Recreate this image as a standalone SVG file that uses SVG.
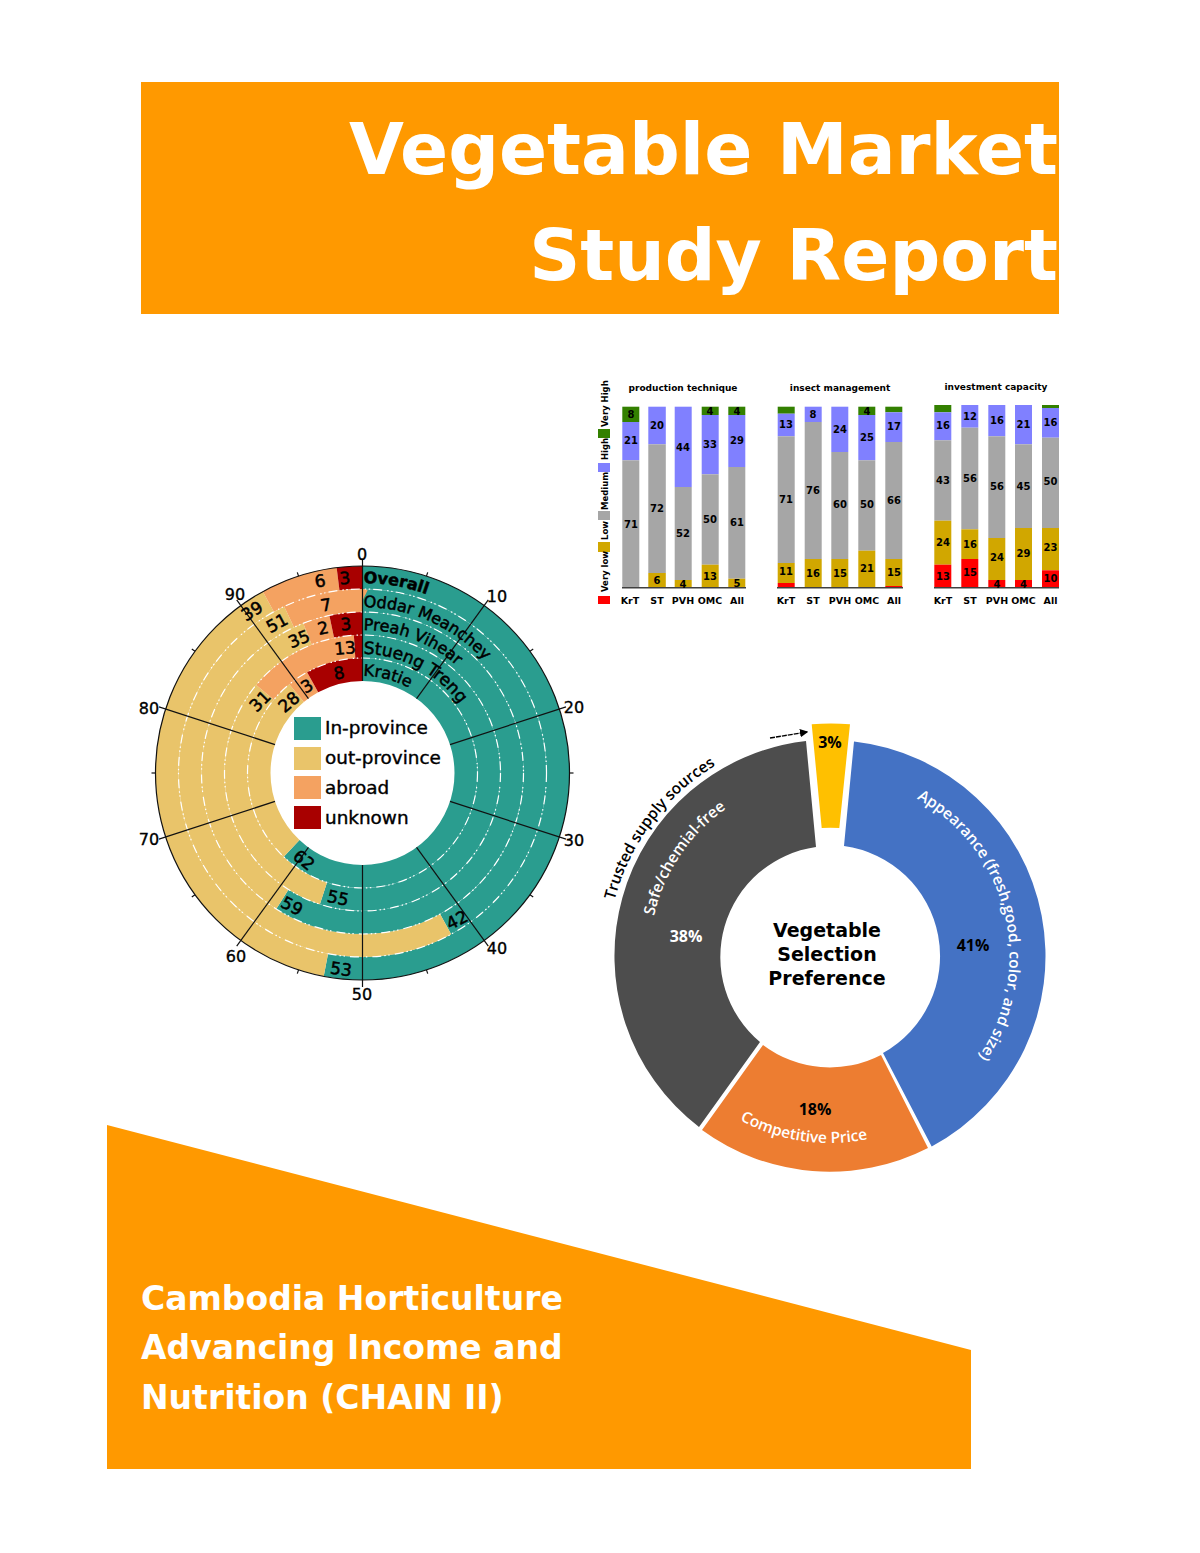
<svg xmlns="http://www.w3.org/2000/svg" width="1200" height="1553" viewBox="0 0 1200 1553">
<style>
text{font-family:"DejaVu Sans","Liberation Sans",sans-serif}
.ban{fill:#FF9900}
.t1{font-size:71px;font-weight:700;fill:#fff;text-anchor:end}
.t2{font-size:33px;font-weight:700;fill:#fff}
.ring{fill:none;stroke-width:23}
.in{stroke:#2A9D8F}.out{stroke:#E9C46A}.abr{stroke:#F4A261}.unk{stroke:#A80000}
.sep{fill:none;stroke:#fff;stroke-width:1.2;stroke-dasharray:9 5 1.5 2.5 1.5 3}
.ax{stroke:#111;stroke-width:1.2;fill:none}
.axl{font-size:16px;fill:#000;stroke:#000;stroke-width:.35;text-anchor:middle;dominant-baseline:central}
.row{font-size:16px;fill:#000;stroke:#000;stroke-width:.5}
.dl{font-size:17px;fill:#000;stroke:#000;stroke-width:.5;text-anchor:middle;dominant-baseline:central}
.leg{font-size:18.4px;fill:#000;stroke:#000;stroke-width:.4}
.r{fill:#FF0000}.g{fill:#D1A700}.m{fill:#A6A6A6}.p{fill:#8080FF}.v{fill:#338000}
.bv{font-size:10px;font-weight:700;fill:#000;text-anchor:middle;dominant-baseline:central}
.bc{font-size:9.5px;font-weight:700;fill:#000;text-anchor:middle}
.bt{font-size:9px;font-weight:700;fill:#000;text-anchor:middle}
.bl{font-size:8.5px;font-weight:700;fill:#000}
.base{stroke:#404040;stroke-width:1.6}
.dt{font-family:"Open Sans","Liberation Sans",sans-serif;font-size:15.5px;fill:#fff;font-weight:600}
.dp{font-family:"Open Sans","Liberation Sans",sans-serif;font-size:16px;font-weight:700;text-anchor:middle}
.dc{font-size:19px;font-weight:700;fill:#000;text-anchor:middle}
</style>
<defs>
<path id="a190" d="M362.5 583A190 190 0 0 1 362.5 963"/>
<path id="a166" d="M362.5 607A166 166 0 0 1 362.5 939"/>
<path id="a143" d="M362.5 630A143 143 0 0 1 362.5 916"/>
<path id="a119" d="M362.5 654A119 119 0 0 1 362.5 892"/>
<path id="a97" d="M362.5 676A97 97 0 0 1 362.5 870"/>
<path id="dApp" d="M829.5 776A180 180 0 0 1 829.5 1136"/>
<path id="dSafe" d="M829.5 1136A180 180 0 0 1 829.5 776"/>
<path id="dComp" d="M642.5 956A187 187 0 0 0 1016.5 956"/>
<path id="dTrust" d="M829.5 1178A222 222 0 0 1 829.5 734"/>
<marker id="ah" markerWidth="6" markerHeight="6" refX="5" refY="3" orient="auto"><path d="M0 0L6 3L0 6Z" fill="#000"/></marker>
</defs>

<g id="title-banner">
<rect class="ban" x="141" y="82" width="918" height="232"/>
<text class="t1" x="1058" y="174">Vegetable Market</text>
<text class="t1" x="1058" y="280">Study Report</text>
</g>

<g id="footer-banner">
<polygon class="ban" points="107,1125 971,1350 971,1469 107,1469"/>
<text class="t2" x="141" y="1310">Cambodia Horticulture</text>
<text class="t2" x="141" y="1359">Advancing Income and</text>
<text class="t2" x="141" y="1409">Nutrition (CHAIN II)</text>
</g>

<g id="polar-chart">
<g transform="rotate(-90 362.5 773)">
<g id="ring-overall">
<circle class="ring in" cx="362.5" cy="773" r="195.5" pathLength="100" stroke-dasharray="53 47"/>
<circle class="ring out" cx="362.5" cy="773" r="195.5" pathLength="100" stroke-dasharray="39 61" stroke-dashoffset="-53"/>
<circle class="ring abr" cx="362.5" cy="773" r="195.5" pathLength="100" stroke-dasharray="6 94" stroke-dashoffset="-92"/>
<circle class="ring unk" cx="362.5" cy="773" r="195.5" pathLength="100" stroke-dasharray="2 98" stroke-dashoffset="-98"/>
</g>
<g id="ring-oddar">
<circle class="ring in" cx="362.5" cy="773" r="172.5" pathLength="100" stroke-dasharray="42 58"/>
<circle class="ring out" cx="362.5" cy="773" r="172.5" pathLength="100" stroke-dasharray="51 49" stroke-dashoffset="-42"/>
<circle class="ring abr" cx="362.5" cy="773" r="172.5" pathLength="100" stroke-dasharray="7 93" stroke-dashoffset="-93"/>
</g>
<g id="ring-preah">
<circle class="ring in" cx="362.5" cy="773" r="149.5" pathLength="100" stroke-dasharray="59 41"/>
<circle class="ring out" cx="362.5" cy="773" r="149.5" pathLength="100" stroke-dasharray="35 65" stroke-dashoffset="-59"/>
<circle class="ring abr" cx="362.5" cy="773" r="149.5" pathLength="100" stroke-dasharray="2.7 97.3" stroke-dashoffset="-94"/>
<circle class="ring unk" cx="362.5" cy="773" r="149.5" pathLength="100" stroke-dasharray="3.3 96.7" stroke-dashoffset="-96.7"/>
</g>
<g id="ring-stueng">
<circle class="ring in" cx="362.5" cy="773" r="126.5" pathLength="100" stroke-dasharray="55 45"/>
<circle class="ring out" cx="362.5" cy="773" r="126.5" pathLength="100" stroke-dasharray="31 69" stroke-dashoffset="-55"/>
<circle class="ring abr" cx="362.5" cy="773" r="126.5" pathLength="100" stroke-dasharray="13 87" stroke-dashoffset="-86"/>
<circle class="ring unk" cx="362.5" cy="773" r="126.5" pathLength="100" stroke-dasharray="1 99" stroke-dashoffset="-99"/>
</g>
<g id="ring-kratie">
<circle class="ring in" cx="362.5" cy="773" r="103.5" pathLength="100" stroke-dasharray="62 38"/>
<circle class="ring out" cx="362.5" cy="773" r="103.5" pathLength="100" stroke-dasharray="27 73" stroke-dashoffset="-62"/>
<circle class="ring abr" cx="362.5" cy="773" r="103.5" pathLength="100" stroke-dasharray="3 97" stroke-dashoffset="-89"/>
<circle class="ring unk" cx="362.5" cy="773" r="103.5" pathLength="100" stroke-dasharray="8 92" stroke-dashoffset="-92"/>
</g>
</g>
<g id="polar-grid">
<circle class="sep" cx="362.5" cy="773" r="115"/>
<circle class="sep" cx="362.5" cy="773" r="138"/>
<circle class="sep" cx="362.5" cy="773" r="161"/>
<circle class="sep" cx="362.5" cy="773" r="184"/>
<circle class="ax" cx="362.5" cy="773" r="207"/>
<line class="ax" x1="362.5" y1="681" x2="362.5" y2="559"/>
<line class="ax" x1="362.5" y1="681" x2="362.5" y2="559" transform="rotate(36 362.5 773)"/>
<line class="ax" x1="362.5" y1="681" x2="362.5" y2="559" transform="rotate(72 362.5 773)"/>
<line class="ax" x1="362.5" y1="681" x2="362.5" y2="559" transform="rotate(108 362.5 773)"/>
<line class="ax" x1="362.5" y1="681" x2="362.5" y2="559" transform="rotate(144 362.5 773)"/>
<line class="ax" x1="362.5" y1="681" x2="362.5" y2="559" transform="rotate(180 362.5 773)"/>
<line class="ax" x1="362.5" y1="681" x2="362.5" y2="559" transform="rotate(216 362.5 773)"/>
<line class="ax" x1="362.5" y1="681" x2="362.5" y2="559" transform="rotate(252 362.5 773)"/>
<line class="ax" x1="362.5" y1="681" x2="362.5" y2="559" transform="rotate(288 362.5 773)"/>
<line class="ax" x1="362.5" y1="681" x2="362.5" y2="559" transform="rotate(324 362.5 773)"/>
<line class="ax" x1="362.5" y1="566" x2="362.5" y2="562" transform="rotate(18 362.5 773)"/>
<line class="ax" x1="362.5" y1="566" x2="362.5" y2="562" transform="rotate(54 362.5 773)"/>
<line class="ax" x1="362.5" y1="566" x2="362.5" y2="562" transform="rotate(90 362.5 773)"/>
<line class="ax" x1="362.5" y1="566" x2="362.5" y2="562" transform="rotate(126 362.5 773)"/>
<line class="ax" x1="362.5" y1="566" x2="362.5" y2="562" transform="rotate(162 362.5 773)"/>
<line class="ax" x1="362.5" y1="566" x2="362.5" y2="562" transform="rotate(198 362.5 773)"/>
<line class="ax" x1="362.5" y1="566" x2="362.5" y2="562" transform="rotate(234 362.5 773)"/>
<line class="ax" x1="362.5" y1="566" x2="362.5" y2="562" transform="rotate(270 362.5 773)"/>
<line class="ax" x1="362.5" y1="566" x2="362.5" y2="562" transform="rotate(306 362.5 773)"/>
<line class="ax" x1="362.5" y1="566" x2="362.5" y2="562" transform="rotate(342 362.5 773)"/>
</g>
<g id="polar-axis-labels">
<text class="axl" x="362" y="554">0</text>
<text class="axl" x="497" y="596">10</text>
<text class="axl" x="574" y="707">20</text>
<text class="axl" x="574" y="840">30</text>
<text class="axl" x="497" y="948">40</text>
<text class="axl" x="362" y="994">50</text>
<text class="axl" x="236" y="956">60</text>
<text class="axl" x="149" y="839">70</text>
<text class="axl" x="149" y="708">80</text>
<text class="axl" x="235" y="594">90</text>
</g>
<g id="polar-row-labels">
<text class="row" style="font-weight:700"><textPath href="#a190" startOffset="1">Overall</textPath></text>
<text class="row"><textPath href="#a166" startOffset="1">Oddar Meanchey</textPath></text>
<text class="row"><textPath href="#a143" startOffset="1">Preah Vihear</textPath></text>
<text class="row" style="font-size:17px"><textPath href="#a119" startOffset="1">Stueng Treng</textPath></text>
<text class="row"><textPath href="#a97" startOffset="1">Kratie</textPath></text>
</g>
<g id="polar-values">
<text class="dl" x="345" y="578" transform="rotate(-5 345 578)">3</text>
<text class="dl" x="320" y="581" transform="rotate(-10 320 581)">6</text>
<text class="dl" x="326" y="605" transform="rotate(-10 326 605)">7</text>
<text class="dl" x="346" y="624" transform="rotate(-5 346 624)">3</text>
<text class="dl" x="323" y="628" transform="rotate(-12 323 628)">2</text>
<text class="dl" x="345" y="648" transform="rotate(-5 345 648)">13</text>
<text class="dl" x="339" y="673" transform="rotate(-10 339 673)">8</text>
<text class="dl" x="307" y="686" transform="rotate(-30 307 686)">3</text>
<text class="dl" x="289" y="702" transform="rotate(-40 289 702)">28</text>
<text class="dl" x="260" y="701" transform="rotate(-45 260 701)">31</text>
<text class="dl" x="299" y="639" transform="rotate(-22 299 639)">35</text>
<text class="dl" x="277" y="623" transform="rotate(-28 277 623)">51</text>
<text class="dl" x="252" y="611" transform="rotate(-32 252 611)">39</text>
<text class="dl" x="341" y="969" transform="rotate(8 341 969)">53</text>
<text class="dl" x="457" y="920" transform="rotate(-27 457 920)">42</text>
<text class="dl" x="292" y="906" transform="rotate(28 292 906)">59</text>
<text class="dl" x="338" y="898" transform="rotate(12 338 898)">55</text>
<text class="dl" x="304" y="860" transform="rotate(40 304 860)">62</text>
</g>
<g id="polar-legend">
<rect x="294" y="717" width="27" height="23" fill="#2A9D8F"/>
<rect x="294" y="747" width="27" height="23" fill="#E9C46A"/>
<rect x="294" y="776" width="27" height="23" fill="#F4A261"/>
<rect x="294" y="806" width="27" height="23" fill="#A80000"/>
<text class="leg" x="325" y="734">In-province</text>
<text class="leg" x="325" y="764">out-province</text>
<text class="leg" x="325" y="794">abroad</text>
<text class="leg" x="325" y="824">unknown</text>
</g>
</g>

<g id="bar-legend">
<rect class="r" x="598" y="596" width="12" height="8"/>
<rect class="g" x="598" y="542" width="12" height="10"/>
<rect class="m" x="598" y="511" width="12" height="9"/>
<rect class="p" x="598" y="463" width="12" height="9"/>
<rect class="v" x="598" y="429" width="12" height="9"/>
<text class="bl" transform="translate(608 592) rotate(-90)">Very low</text>
<text class="bl" transform="translate(608 540) rotate(-90)">Low</text>
<text class="bl" transform="translate(608 510) rotate(-90)">Medium</text>
<text class="bl" transform="translate(608 460) rotate(-90)">High</text>
<text class="bl" transform="translate(608 427) rotate(-90)">Very High</text>
</g>

<g id="bars-production">
<text class="bt" x="683" y="391">production technique</text>
<rect class="v" x="622.3" y="406.7" width="17" height="15.3"/><rect class="p" x="622.3" y="422" width="17" height="38.3"/><rect class="m" x="622.3" y="460.3" width="17" height="127.4"/>
<rect class="p" x="648.3" y="406.7" width="17.5" height="37.6"/><rect class="m" x="648.3" y="444.3" width="17.5" height="128.7"/><rect class="g" x="648.3" y="573" width="17.5" height="14.7"/>
<rect class="p" x="674.7" y="406.7" width="17" height="80.3"/><rect class="m" x="674.7" y="487" width="17" height="93"/><rect class="g" x="674.7" y="580" width="17" height="7.7"/>
<rect class="v" x="701.7" y="406.7" width="17" height="8.3"/><rect class="p" x="701.7" y="415" width="17" height="59.3"/><rect class="m" x="701.7" y="474.3" width="17" height="90.4"/><rect class="g" x="701.7" y="564.7" width="17" height="23"/>
<rect class="v" x="728.3" y="406.7" width="17" height="8.3"/><rect class="p" x="728.3" y="415" width="17" height="52"/><rect class="m" x="728.3" y="467" width="17" height="111.7"/><rect class="g" x="728.3" y="578.7" width="17" height="9"/>
<line class="base" x1="622" y1="587.7" x2="746" y2="587.7"/>
<text class="bv" x="631" y="414">8</text><text class="bv" x="631" y="440.7">21</text><text class="bv" x="631" y="524">71</text>
<text class="bv" x="657" y="425">20</text><text class="bv" x="657" y="508.3">72</text><text class="bv" x="657" y="580">6</text>
<text class="bv" x="683" y="447">44</text><text class="bv" x="683" y="533.7">52</text><text class="bv" x="683" y="584">4</text>
<text class="bv" x="710" y="411">4</text><text class="bv" x="710" y="444">33</text><text class="bv" x="710" y="519">50</text><text class="bv" x="710" y="576">13</text>
<text class="bv" x="737" y="411">4</text><text class="bv" x="737" y="440.7">29</text><text class="bv" x="737" y="522.3">61</text><text class="bv" x="737" y="583.3">5</text>
<text class="bc" x="630" y="604">KrT</text><text class="bc" x="657" y="604">ST</text><text class="bc" x="683" y="604">PVH</text><text class="bc" x="710" y="604">OMC</text><text class="bc" x="737" y="604">All</text>
</g>

<g id="bars-insect">
<text class="bt" x="840" y="391">insect management</text>
<rect class="v" x="777.7" y="406.7" width="17" height="7"/><rect class="p" x="777.7" y="413.7" width="17" height="22.6"/><rect class="m" x="777.7" y="436.3" width="17" height="126.7"/><rect class="g" x="777.7" y="563" width="17" height="20"/><rect class="r" x="777.7" y="583" width="17" height="4.7"/>
<rect class="p" x="804.7" y="406.7" width="17" height="15.3"/><rect class="m" x="804.7" y="422" width="17" height="137"/><rect class="g" x="804.7" y="559" width="17" height="28.7"/>
<rect class="p" x="831.3" y="406.7" width="17" height="45.3"/><rect class="m" x="831.3" y="452" width="17" height="107"/><rect class="g" x="831.3" y="559" width="17" height="28.7"/>
<rect class="v" x="858.3" y="406.7" width="17" height="8.3"/><rect class="p" x="858.3" y="415" width="17" height="45.3"/><rect class="m" x="858.3" y="460.3" width="17" height="90.4"/><rect class="g" x="858.3" y="550.7" width="17" height="37"/>
<rect class="v" x="885.3" y="406.7" width="17" height="5.6"/><rect class="p" x="885.3" y="412.3" width="17" height="29.7"/><rect class="m" x="885.3" y="442" width="17" height="117"/><rect class="g" x="885.3" y="559" width="17" height="27"/><rect class="r" x="885.3" y="586" width="17" height="1.7"/>
<line class="base" x1="777" y1="587.7" x2="903" y2="587.7"/>
<text class="bv" x="786" y="424.3">13</text><text class="bv" x="786" y="499">71</text><text class="bv" x="786" y="571.7">11</text>
<text class="bv" x="813" y="414.3">8</text><text class="bv" x="813" y="490">76</text><text class="bv" x="813" y="573.3">16</text>
<text class="bv" x="840" y="429">24</text><text class="bv" x="840" y="504.3">60</text><text class="bv" x="840" y="573.3">15</text>
<text class="bv" x="867" y="411">4</text><text class="bv" x="867" y="437">25</text><text class="bv" x="867" y="504.3">50</text><text class="bv" x="867" y="568.3">21</text>
<text class="bv" x="894" y="426.3">17</text><text class="bv" x="894" y="500">66</text><text class="bv" x="894" y="572.3">15</text>
<text class="bc" x="786" y="604">KrT</text><text class="bc" x="813" y="604">ST</text><text class="bc" x="840" y="604">PVH</text><text class="bc" x="867" y="604">OMC</text><text class="bc" x="894" y="604">All</text>
</g>

<g id="bars-investment">
<text class="bt" x="996" y="390">investment capacity</text>
<rect class="v" x="934.3" y="405" width="17" height="7.3"/><rect class="p" x="934.3" y="412.3" width="17" height="28"/><rect class="m" x="934.3" y="440.3" width="17" height="80.4"/><rect class="g" x="934.3" y="520.7" width="17" height="44"/><rect class="r" x="934.3" y="564.7" width="17" height="23"/>
<rect class="p" x="961.3" y="405" width="17" height="22.7"/><rect class="m" x="961.3" y="427.7" width="17" height="101.6"/><rect class="g" x="961.3" y="529.3" width="17" height="29.7"/><rect class="r" x="961.3" y="559" width="17" height="28.7"/>
<rect class="p" x="988.3" y="405" width="17" height="31.3"/><rect class="m" x="988.3" y="436.3" width="17" height="101.7"/><rect class="g" x="988.3" y="538" width="17" height="42"/><rect class="r" x="988.3" y="580" width="17" height="7.7"/>
<rect class="p" x="1015" y="405" width="17" height="39.3"/><rect class="m" x="1015" y="444.3" width="17" height="83.7"/><rect class="g" x="1015" y="528" width="17" height="52"/><rect class="r" x="1015" y="580" width="17" height="7.7"/>
<rect class="v" x="1042" y="405" width="17" height="3"/><rect class="p" x="1042" y="408" width="17" height="29.7"/><rect class="m" x="1042" y="437.7" width="17" height="90.3"/><rect class="g" x="1042" y="528" width="17" height="42.3"/><rect class="r" x="1042" y="570.3" width="17" height="17.4"/>
<line class="base" x1="934" y1="587.7" x2="1059" y2="587.7"/>
<text class="bv" x="943" y="425">16</text><text class="bv" x="943" y="480">43</text><text class="bv" x="943" y="542.3">24</text><text class="bv" x="943" y="576">13</text>
<text class="bv" x="970" y="416.3">12</text><text class="bv" x="970" y="478.7">56</text><text class="bv" x="970" y="544">16</text><text class="bv" x="970" y="572.7">15</text>
<text class="bv" x="997" y="420.3">16</text><text class="bv" x="997" y="486">56</text><text class="bv" x="997" y="557.7">24</text><text class="bv" x="997" y="584">4</text>
<text class="bv" x="1023.5" y="424.7">21</text><text class="bv" x="1023.5" y="486">45</text><text class="bv" x="1023.5" y="553.3">29</text><text class="bv" x="1023.5" y="584">4</text>
<text class="bv" x="1050.5" y="422.7">16</text><text class="bv" x="1050.5" y="481.7">50</text><text class="bv" x="1050.5" y="547.7">23</text><text class="bv" x="1050.5" y="578.3">10</text>
<text class="bc" x="943" y="604">KrT</text><text class="bc" x="970" y="604">ST</text><text class="bc" x="997" y="604">PVH</text><text class="bc" x="1023.5" y="604">OMC</text><text class="bc" x="1050.5" y="604">All</text>
</g>

<g id="donut-chart">
<path id="seg-appearance" fill="#4472C4" d="M854 741.5A216 216 0 0 1 931.7 1146.4L883 1053A111 111 0 0 0 844 846Z"/>
<path id="seg-price" fill="#ED7D31" d="M928 1148A216 216 0 0 1 702 1130L763 1045A111 111 0 0 0 881 1055Z"/>
<path id="seg-safe" fill="#4D4D4D" d="M699 1127A216 216 0 0 1 806 741L816 847A111 111 0 0 0 760 1042Z"/>
<path id="seg-trusted" fill="#FFC000" d="M811.7 724.3A233 233 0 0 1 850 724.3L839.3 828A128 128 0 0 0 821.7 828Z"/>
<text class="dt"><textPath href="#dApp" startOffset="91">Appearance (fresh,good, color, and size)</textPath></text>
<text class="dt"><textPath href="#dSafe" startOffset="323">Safe/chemial-free</textPath></text>
<text class="dt"><textPath href="#dComp" startOffset="200">Competitive Price</textPath></text>
<text class="dt" style="fill:#000"><textPath href="#dTrust" startOffset="405">Trusted supply sources</textPath></text>
<line x1="770" y1="738" x2="807" y2="732" stroke="#000" stroke-width="1.4" stroke-dasharray="5 1" marker-end="url(#ah)"/>
<text class="dp" x="973" y="951">41%</text>
<text class="dp" x="686" y="942" fill="#fff">38%</text>
<text class="dp" x="815" y="1115">18%</text>
<text class="dp" x="830" y="748">3%</text>
<text class="dc" x="827" y="937">Vegetable</text>
<text class="dc" x="827" y="961">Selection</text>
<text class="dc" x="827" y="985">Preference</text>
</g>
</svg>
